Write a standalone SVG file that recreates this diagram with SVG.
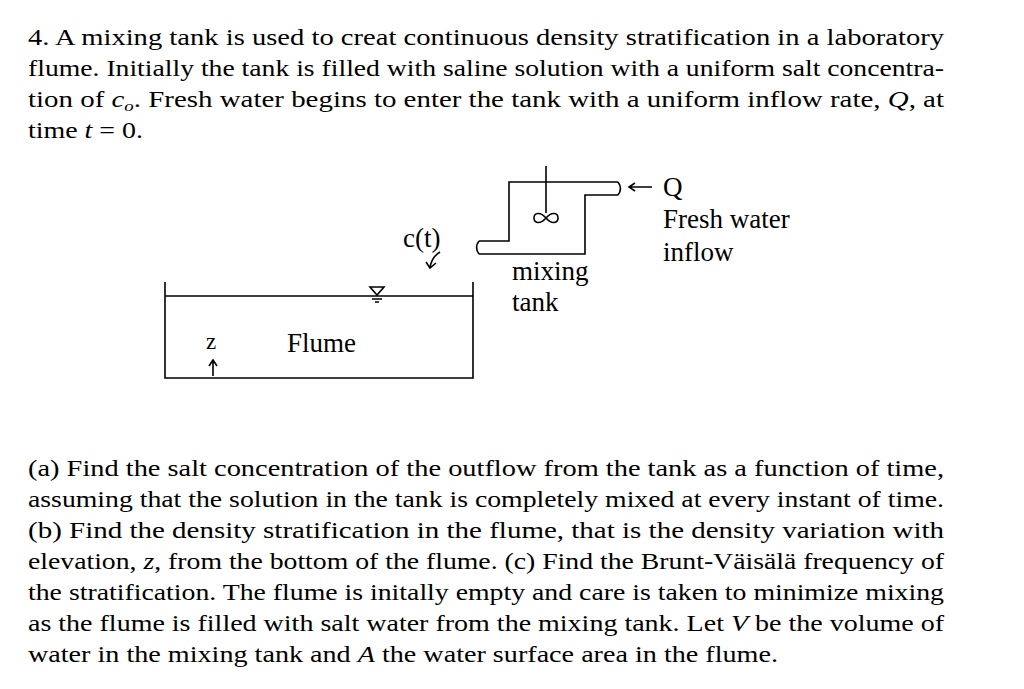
<svg xmlns="http://www.w3.org/2000/svg" width="1024" height="689" viewBox="0 0 1024 689">
<style>
.t{font-family:"Liberation Serif",serif;font-size:23px;fill:#000}
.l{font-family:"Liberation Serif",serif;font-size:27px;fill:#000}
.s{fill:none;stroke:#000;stroke-width:1.6}
</style>
<rect width="1024" height="689" fill="#fff"/>
<g id="text-top" class="t">
<text x="28" y="45" textLength="916" lengthAdjust="spacingAndGlyphs">4. A mixing tank is used to creat continuous density stratification in a laboratory</text>
<text x="28" y="76" textLength="916" lengthAdjust="spacingAndGlyphs">flume. Initially the tank is filled with saline solution with a uniform salt concentra-</text>
<text x="28" y="107" textLength="916" lengthAdjust="spacingAndGlyphs">tion of <tspan font-style="italic">c</tspan><tspan font-size="15" dy="4" font-style="italic">o</tspan><tspan dy="-4">. Fresh water begins to enter the tank with a uniform inflow rate, </tspan><tspan font-style="italic">Q</tspan>, at</text>
<text x="28" y="138" textLength="115" lengthAdjust="spacingAndGlyphs">time <tspan font-style="italic">t</tspan> = 0.</text>
</g>
<g id="flume">
<path class="s" d="M165 282 V378 H473 V282 M165 296 H473"/>
<path class="s" d="M370 287 L384 287 L377 295 Z M372 299 H382 M375 302 H379" stroke-width="1.2"/>
<text class="l" x="287" y="352">Flume</text>
<text class="t" x="206" y="349" font-size="20">z</text>
<path class="s" d="M213 376 V361 M209 366 L213 360 L217 366" stroke-width="1.2"/>
</g>
<g id="tank">
<path class="s" d="M479 241 H509 V182 H618 M618 195 H585 V254 H479"/>
<path class="s" d="M479 241 C476 245 476 250 479 254 M618 182 C621 186 621 191 618 195" stroke-width="1.2"/>
<path class="s" d="M546 166 V213" stroke-width="1.3"/>
<path class="s" d="M546 218 C540 211 534 213 534 218 C534 223 540 225 546 218 C552 211 558 213 558 218 C558 223 552 225 546 218" stroke-width="1.2"/>
<text class="l" x="512" y="280">mixing</text>
<text class="l" x="512" y="311">tank</text>
<text class="l" x="403" y="247">c(t)</text>
<path class="s" d="M440 252 C435 255 431 260 430 268 M426 262 L430 268 L436 263" stroke-width="1.2"/>
</g>
<g id="inflow">
<path class="s" d="M652 187 H629 M635 183 L629 187 L635 191" stroke-width="1.2"/>
<text class="l" x="663" y="196">Q</text>
<text class="l" x="663" y="228">Fresh water</text>
<text class="l" x="663" y="261">inflow</text>
</g>
<g id="text-bottom" class="t">
<text x="28" y="476" textLength="916" lengthAdjust="spacingAndGlyphs">(a) Find the salt concentration of the outflow from the tank as a function of time,</text>
<text x="28" y="507" textLength="916" lengthAdjust="spacingAndGlyphs">assuming that the solution in the tank is completely mixed at every instant of time.</text>
<text x="28" y="538" textLength="916" lengthAdjust="spacingAndGlyphs">(b) Find the density stratification in the flume, that is the density variation with</text>
<text x="28" y="569" textLength="916" lengthAdjust="spacingAndGlyphs">elevation, <tspan font-style="italic">z</tspan>, from the bottom of the flume. (c) Find the Brunt-Väisälä frequency of</text>
<text x="28" y="600" textLength="916" lengthAdjust="spacingAndGlyphs">the stratification. The flume is initally empty and care is taken to minimize mixing</text>
<text x="28" y="631" textLength="916" lengthAdjust="spacingAndGlyphs">as the flume is filled with salt water from the mixing tank. Let <tspan font-style="italic">V</tspan> be the volume of</text>
<text x="28" y="662" textLength="750" lengthAdjust="spacingAndGlyphs">water in the mixing tank and <tspan font-style="italic">A</tspan> the water surface area in the flume.</text>
</g>
</svg>
